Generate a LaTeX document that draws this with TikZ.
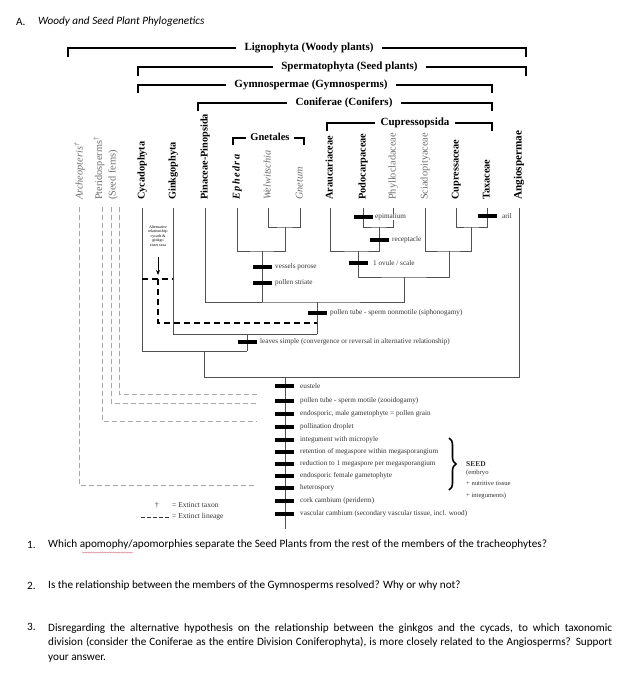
\documentclass[tikz,border=0pt]{standalone}
\usepackage{fontspec}
\setmainfont{Liberation Serif}
\newfontfamily\carlito{Carlito}
\usetikzlibrary{arrows.meta,decorations.pathreplacing,decorations.pathmorphing,calc}
\definecolor{treeline}{HTML}{505050}
\definecolor{graytext}{HTML}{6E6E6E}
\definecolor{apotext}{HTML}{333333}
\definecolor{dashgray}{HTML}{A8A8A8}
\definecolor{squig}{HTML}{D98C9A}
\tikzset{
  br/.style={line width=1.2pt, black},
  brl/.style={font=\bfseries\fontsize{11}{12}\selectfont, inner xsep=8pt, inner ysep=0pt, text height=7.5pt, text depth=2.5pt},
  taxon/.style={rotate=90, anchor=west, inner sep=0pt, text height=7pt, text depth=2pt, font=\fontsize{10.3}{13.5}\selectfont},
  tb/.style={taxon, font=\bfseries\fontsize{10.3}{12}\selectfont},
  tg/.style={taxon, text=graytext},
  branch/.style={line width=0.8pt, draw=treeline},
  apo/.style={line width=3.3pt, black},
  apol/.style={anchor=west, inner sep=0pt, fill=white, font=\fontsize{7.2}{8}\selectfont, text=apotext},
  ext/.style={dash pattern=on 5pt off 3pt, draw=dashgray, line width=0.7pt},
  alt/.style={dash pattern=on 6pt off 4pt, line width=1.3pt, black},
  qfont/.style={font=\carlito\fontsize{11.2}{14.5}\selectfont, inner sep=0pt},
}
\begin{document}
\begin{tikzpicture}[x=1pt,y=-1pt]
\useasboundingbox (0,0) rectangle (637,700);

% Title
\node[qfont, anchor=west] (ttlA) at (16,22) {A.};
\node[qfont, anchor=west, font=\carlito\itshape\fontsize{11.2}{13}\selectfont] (ttl) at (38,22) {Woody and Seed Plant Phylogenetics};

% Bracket labels
\node[brl] (lig) at (309,48) {Lignophyta (Woody plants)};
\node[brl] (spe) at (349.5,67) {Spermatophyta (Seed plants)};
\node[brl] (gym) at (311,85) {Gymnospermae (Gymnosperms)};
\node[brl] (con) at (344,103) {Coniferae (Conifers)};
\node[brl, inner xsep=5pt] (cus) at (415,123) {Cupressopsida};
\node[brl, inner xsep=4pt, font=\bfseries\fontsize{10.5}{12}\selectfont] (gnl) at (270,138) {Gnetales};

\coordinate (ligL) at (68,57);  \coordinate (ligR) at (526,57);
\coordinate (speL) at (138,76); \coordinate (speR) at (526,76);
\coordinate (gymL) at (138,93); \coordinate (gymR) at (492,93);
\coordinate (conL) at (198,111);\coordinate (conR) at (492,111);
\coordinate (cusL) at (327,131);\coordinate (cusR) at (492,131);
\coordinate (gnlL) at (233,145);\coordinate (gnlR) at (304,145);
\draw[br] (ligL) |- (lig.west); \draw[br] (lig.east) -| (ligR);
\draw[br] (speL) |- (spe.west); \draw[br] (spe.east) -| (speR);
\draw[br] (gymL) |- (gym.west); \draw[br] (gym.east) -| (gymR);
\draw[br] (conL) |- (con.west); \draw[br] (con.east) -| (conR);
\draw[br] (cusL) |- (cus.west); \draw[br] (cus.east) -| (cusR);
\draw[br] (gnlL) |- (gnl.west); \draw[br] (gnl.east) -| (gnlR);

% Taxon labels
\node[tg, font=\itshape\fontsize{10.3}{12}\selectfont] (arc) at (80,200) {Archeopteris\textsuperscript{†}};
\node[tg, align=left] (pte) at (113,200) {Pteridosperms\textsuperscript{†}\\(Seed ferns)};
\node[tb] (cyc) at (142,200) {Cycadophyta};
\node[tb] (gin) at (173,200) {Ginkgophyta};
\node[tb] (pin) at (205,200) {Pinaceae-Pinopsida};
\node[tb, font=\bfseries\itshape\addfontfeature{LetterSpace=14}\fontsize{10.3}{12}\selectfont] (eph) at (237,200) {Ephedra};
\node[tg, font=\itshape\fontsize{10.3}{12}\selectfont] (wel) at (268,200) {Welwitschia};
\node[tg, font=\itshape\fontsize{10.3}{12}\selectfont] (gne) at (300,200) {Gnetum};
\node[tb] (ara) at (330,200) {Araucariaceae};
\node[tb] (pod) at (363,200) {Podocarpaceae};
\node[tg] (phy) at (393,200) {Phyllocladaceae};
\node[tg] (sci) at (425,200) {Sciadopityaceae};
\node[tb] (cup) at (456,200) {Cupressaceae};
\node[tb] (tax) at (487,200) {Taxaceae};
\node[tb, font=\bfseries\fontsize{11.2}{13}\selectfont] (ang) at (519,200) {Angiospermae};

% Internal nodes
\coordinate (nWG) at (285,227);
\coordinate (nGn) at (262,251);
\coordinate (nPP) at (379,227);
\coordinate (nAP) at (358,251);
\coordinate (nCT) at (471,227);
\coordinate (nSCT) at (449,251);
\coordinate (nCup) at (404,277);
\coordinate (nCon) at (317,302);
\coordinate (nGC) at (247,334);
\coordinate (nGym) at (204,351);
\coordinate (nSp) at (285,377);
\coordinate (root) at (285,529);

% Tree
\draw[branch] ([yshift=-8pt]wel.west) |- (nWG) -| ([yshift=-8pt]gne.west);
\draw[branch] ([yshift=-8pt]eph.west) |- (nGn) -| (nWG);
\draw[branch] (nGn) -- (nGn |- nCon);
\draw[branch] ([yshift=-8pt]pod.west) |- (nPP) -| ([yshift=-8pt]phy.west);
\draw[branch] ([yshift=-8pt]ara.west) |- (nAP) -| (nPP);
\draw[branch] ([yshift=-8pt]cup.west) |- (nCT) -| ([yshift=-8pt]tax.west);
\draw[branch] ([yshift=-8pt]sci.west) |- (nSCT) -| (nCT);
\draw[branch] (nAP) |- (nCup) -| (nSCT);
\draw[branch] ([yshift=-8pt]pin.west) |- (nCon) -| (nCup);
\draw[branch] (nCon) -- (nCon |- nGC);
\draw[branch] ([yshift=-8pt]gin.west) |- (nCon |- nGC);
\draw[branch] (nGC) -- (nGC |- nGym);
\draw[branch] ([yshift=-8pt]cyc.west) |- (nGC |- nGym);
\draw[branch] (nGym) -- (nGym |- nSp);
\draw[branch] (nGym |- nSp) -| ([yshift=-8pt]ang.west);
\draw[branch] (nSp) -- (root);

% Alternative relationship
\coordinate (altC) at (142,279);
\coordinate (altG) at (173,279);
\coordinate (altM) at (158,279);
\coordinate (altE) at (317,323);
\draw[alt] (altC) -- (altG);
\draw[alt] (altM) |- (altE);
\node[font=\fontsize{4}{4.5}\selectfont, align=center, inner sep=0pt] (altnote) at (158,236) {Alternative\\relationship:\\cycads \&\\ginkgo\\sister taxa};
\draw[-{Stealth[length=5pt,width=4pt]}, line width=0.9pt] (158,257) -- (158,275);

% Extinct lineages
\coordinate (e1s) at (79,207);  \coordinate (e1e) at (257,485);
\coordinate (e2s) at (102,207); \coordinate (e2e) at (257,421);
\coordinate (e3s) at (111,207); \coordinate (e3e) at (257,403);
\coordinate (e4s) at (119,207); \coordinate (e4e) at (257,394);
\draw[ext] (e1s) |- (e1e);
\draw[ext] (e2s) |- (e2e);
\draw[ext] (e3s) |- (e3e);
\draw[ext] (e4s) |- (e4e);

% Apomorphies on branches
\draw[apo] (353.5,217) -- (372.5,217); \node[apol] (a1) at (375,217) {epimatium};
\draw[apo] (369.5,240) -- (388.5,240); \node[apol] (a2) at (392,240) {receptacle};
\draw[apo] (348.5,263) -- (367.5,263); \node[apol] (a3) at (373,263) {1 ovule / scale};
\draw[apo] (477.5,216) -- (496.5,216); \node[apol] (a4) at (502,216) {aril};
\draw[apo] (252.5,267) -- (271.5,267); \node[apol] (a5) at (275,267) {vessels porose};
\draw[apo] (252.5,283) -- (271.5,283); \node[apol] (a6) at (275,283) {pollen striate};
\draw[apo] (307.5,313) -- (326.5,313); \node[apol] (a7) at (330,313) {pollen tube - sperm nonmotile (siphonogamy)};
\draw[apo] (237.5,342) -- (256.5,342); \node[apol] (a8) at (260,342) {leaves simple (convergence or reversal in alternative relationship)};

% Stem apomorphies
\foreach \yy/\nm/\tx in {
 386/s1/eustele,
 401/s2/pollen tube - sperm motile (zooidogamy),
 414/s3/{endosporic, male gametophyte = pollen grain},
 427/s4/pollination droplet,
 440/s5/integument with micropyle,
 452/s6/retention of megaspore within megasporangium,
 464/s7/reduction to 1 megaspore per megasporangium,
 476/s8/endosporic female gametophyte,
 488/s9/heterospory,
 501/s10/cork cambium (periderm),
 514/s11/{vascular cambium (secondary vascular tissue, incl. wood)}} {
  \draw[apo] (275,\yy) -- (294,\yy);
  \node[apol] (\nm) at (300,\yy) {\tx};
}

% Seed brace
\draw[line width=1.6pt, decorate, decoration={brace, amplitude=7pt, aspect=0.5}] (449,438) -- (449,490);
\node[anchor=west, inner sep=0pt, font=\bfseries\fontsize{7.5}{8}\selectfont, text=apotext] (seed) at (466,464) {SEED};
\node[anchor=north west, inner sep=0pt, align=left, font=\fontsize{6.6}{11.5}\selectfont, text=apotext] (seedt) at (466,469.5) {(embryo\\+ nutritive tissue\\+ integuments)};

% Legend
\node[anchor=west, inner sep=0pt, font=\fontsize{7.5}{8}\selectfont, text=apotext] (lg1s) at (155,505) {†};
\node[anchor=west, inner sep=0pt, font=\fontsize{7.5}{8}\selectfont, text=apotext] (lg1) at (172,505) {= Extinct taxon};
\coordinate (lg2a) at (141,517);
\node[anchor=west, inner sep=0pt, font=\fontsize{7.5}{8}\selectfont, text=apotext] (lg2) at (172,517) {= Extinct lineage};
\draw[dash pattern=on 4pt off 2pt, line width=0.7pt, draw=apotext] (lg2a) -- ([xshift=-3pt]lg2.west);

% Questions
\node[qfont, anchor=west] (q1n) at (27,545) {1.};
\node[qfont, anchor=west] (q1) at (48,545) {Which apomophy/apomorphies separate the Seed Plants from the rest of the members of the tracheophytes?};
\draw[squig, line width=0.5pt, decorate, decoration={snake, amplitude=0.5pt, segment length=2.2pt}] (82,552.5) -- (133,552.5);
\node[qfont, anchor=west] (q2n) at (27,586) {2.};
\node[qfont, anchor=west] (q2) at (48,586) {Is the relationship between the members of the Gymnosperms resolved? Why or why not?};
\node[qfont, anchor=west] (q3n) at (27,627) {3.};
\node[qfont, anchor=north west, text width=564pt, align=justify] (q3) at (48,623.5) {Disregarding the alternative hypothesis on the relationship between the ginkgos and the cycads, to which taxonomic\linebreak division (consider the Coniferae as the entire Division Coniferophyta), is more closely related to the Angiosperms? Support\linebreak your answer.};
\end{tikzpicture}
\end{document}
